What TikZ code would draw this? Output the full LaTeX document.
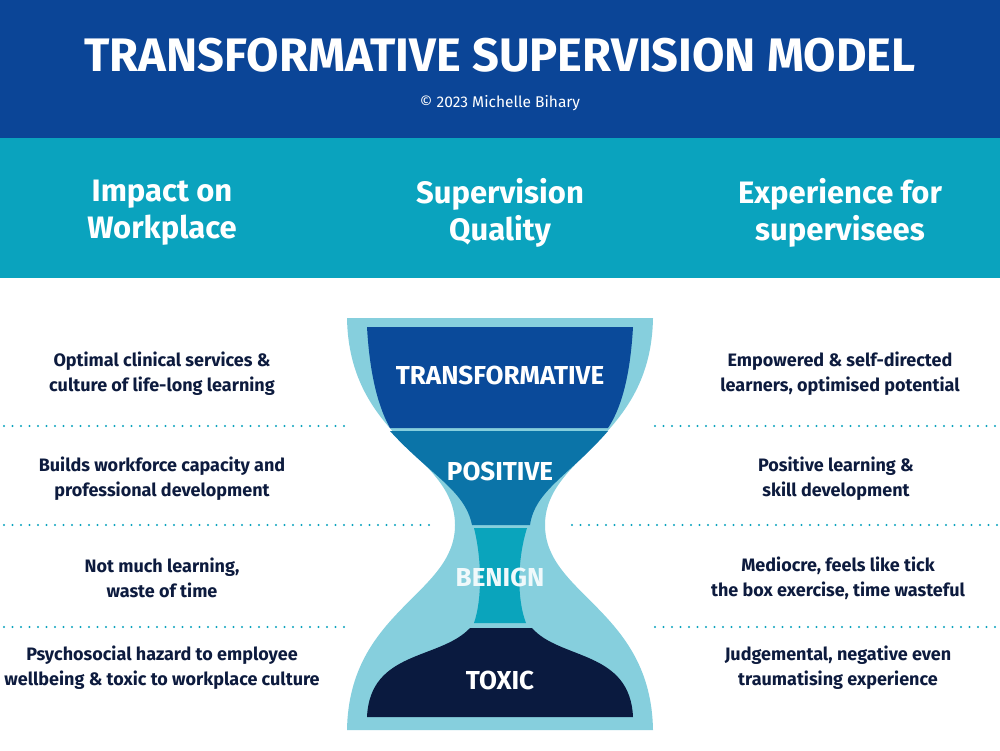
\documentclass[tikz,border=0pt]{standalone}
\usepackage{fontspec}
\setmainfont{Fira Sans}
\definecolor{hdr}{HTML}{0B4597}
\definecolor{band}{HTML}{0AA3BE}
\definecolor{glass}{HTML}{86CFDD}
\definecolor{ctr}{HTML}{0A4A9A}
\definecolor{cpos}{HTML}{0B74A8}
\definecolor{cben}{HTML}{0AA4BC}
\definecolor{ctox}{HTML}{0A1A3F}
\definecolor{ink}{HTML}{0D1B3E}
\begin{document}
\begin{tikzpicture}[x=1pt,y=-1pt,
  side/.style={text=ink,font=\bfseries\fontsize{18}{25}\selectfont,align=center},
  head/.style={text=white,font=\bfseries\fontsize{31}{37}\selectfont,align=center},
  lvl/.style={text=white,font=\bfseries\fontsize{26}{30}\selectfont},
  sep/.style={band,line width=2.2pt,dash pattern=on 0pt off 8.5pt,line cap=round}]
\useasboundingbox (0,0) rectangle (1000,750);
\fill[white] (0,0) rectangle (1000,750);
\fill[hdr] (0,0) rectangle (1000,138);
\fill[band] (0,138) rectangle (1000,278);
\node[text=white,font=\bfseries\fontsize{47}{50}\selectfont] (title) at (500,55) {TRANSFORMATIVE SUPERVISION MODEL};
\node[text=white,font=\fontsize{15.5}{18}\selectfont] (copy) at (500,103) {© 2023 Michelle Bihary};
\node[head] (h1) at (162,213) {Impact on\\Workplace};
\node[head] (h2) at (500,213) {Supervision\\Quality};
\node[head] (h3) at (840,213) {Experience for\\supervisees};
% dotted separators
\draw[sep] (4,426) -- (350,426); \draw[sep] (655,426) -- (1000,426);
\draw[sep] (4,525) -- (430,525); \draw[sep] (572,525) -- (1000,525);
\draw[sep] (4,627) -- (345,627); \draw[sep] (655,627) -- (1000,627);
% hourglass
\fill[glass] (347,318) .. controls (349,440) and (455,455) .. (455,525)
  .. controls (455,595) and (349,610) .. (347,730) -- (653,730)
  .. controls (651,610) and (545,595) .. (545,525)
  .. controls (545,455) and (651,440) .. (653,318) -- cycle;
\fill[ctr] (367,327) -- (633,327) .. controls (630,380) and (620,410) .. (608,428) -- (390,428) .. controls (380,410) and (370,380) .. (367,327) -- cycle;
\fill[cpos] (390,431) -- (608,431) .. controls (570,475) and (535,490) .. (530,525) -- (472,525) .. controls (465,490) and (430,475) .. (390,431) -- cycle;
\fill[cben] (474,528) -- (527,528) .. controls (517,560) and (517,600) .. (526,623) -- (474,623) .. controls (482,600) and (482,560) .. (474,528) -- cycle;
\fill[ctox] (470,628) -- (532,628) .. controls (560,660) and (630,650) .. (633,717) -- (367,717) .. controls (370,650) and (440,660) .. (470,628) -- cycle;
\node[lvl] (t) at (500,375) {TRANSFORMATIVE};
\node[lvl] (p) at (500,471) {POSITIVE};
\node[lvl,text=white!88!glass] (b) at (500,577) {BENIGN};
\node[lvl] (x) at (500,680) {TOXIC};
% side texts
\node[side] (l1) at (162,374) {Optimal clinical services \&\\culture of life-long learning};
\node[side] (l2) at (162,479) {Builds workforce capacity and\\professional development};
\node[side] (l3) at (162,578) {Not much learning,\\waste of time};
\node[side] (l4) at (162,668) {Psychosocial hazard to employee\\wellbeing \& toxic to workplace culture};
\node[side] (r1) at (840,374) {Empowered \& self-directed\\learners, optimised potential};
\node[side] (r2) at (836,479) {Positive learning \&\\skill development};
\node[side] (r3) at (838,578) {Mediocre, feels like tick\\the box exercise, time wasteful};
\node[side] (r4) at (838,668) {Judgemental, negative even\\traumatising experience};
\end{tikzpicture}
\end{document}
